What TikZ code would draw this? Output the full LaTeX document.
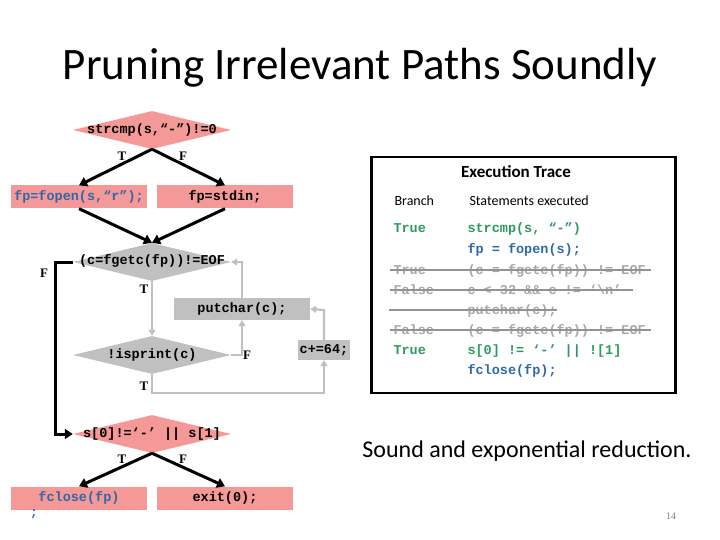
\documentclass[tikz,border=0pt]{standalone}
\usepackage{fontspec}
\setmainfont{Carlito}
\newfontfamily\cm{Liberation Mono}
\usetikzlibrary{shapes.geometric,arrows.meta}
\definecolor{pk}{HTML}{F59898}
\definecolor{gy}{HTML}{C0C0C0}
\definecolor{gr}{HTML}{2E9A60}
\definecolor{bl}{HTML}{3068A8}
\definecolor{st}{HTML}{A8A8A8}
\tikzset{
 dm/.style={diamond,aspect=4.2,inner sep=0pt,minimum width=158pt,minimum height=38pt},
 dt/.style={inner sep=0pt,font=\cm\bfseries\fontsize{13.5}{14}\selectfont},
 bx/.style={rectangle,inner sep=0pt,minimum width=136pt,minimum height=23pt,font=\cm\bfseries\fontsize{13.5}{14}\selectfont},
 lb/.style={font=\fontspec{Liberation Serif}\bfseries\fontsize{13}{14}\selectfont},
 bk/.style={line width=3pt,-{Triangle[length=8pt,width=10pt]}},
 ga/.style={gy,line width=2.2pt,-{Triangle[length=6pt,width=7pt]}},
 tr/.style={anchor=base west,font=\cm\bfseries\fontsize{13.5}{14}\selectfont},
 strk/.style={line width=1.3pt,color=gray!85},
}
\begin{document}
\begin{tikzpicture}[x=1pt,y=-1pt]
\useasboundingbox (0,0) rectangle (720,540);
\node (title) at (360,68) {\fontsize{45}{50}\selectfont Pruning Irrelevant Paths Soundly};
% flowchart
\node[dm,fill=pk] (d1) at (152,130) {};
\node[dt] (d1t) at (152,130) {strcmp(s,“-”)!=0};
\node[bx,fill=pk,text=bl] (b1) at (79,197) {fp=fopen(s,“r”);};
\node[bx,fill=pk] (b2) at (225,197) {fp=stdin;};
\node[dm,fill=gy] (d2) at (152,262) {};
\node[dt] (d2t) at (152,261) {(c=fgetc(fp))!=EOF};
\node[bx,fill=gy,minimum height=22pt] (pc) at (242,309) {putchar(c);};
\node[dm,fill=gy] (d3) at (152,355) {};
\node[dt] (d3t) at (152,355) {!isprint(c)};
\node[bx,fill=gy,minimum width=52pt,minimum height=20pt] (c64) at (324,350) {c+=64;};
\node[dm,fill=pk] (d4) at (152,434) {};
\node[dt] (d4t) at (152,434) {s[0]!=‘-’ || s[1]};
\node[bx,fill=pk,text=bl,align=left] (b3) at (79,498) {fclose(fp)};
\node[font=\cm\bfseries\fontsize{13}{14}\selectfont,text=bl] (semi) at (34,514) {;};
\node[bx,fill=pk] (b4) at (225,498) {exit(0);};
% labels
\node[lb] (t1) at (122,156) {T};
\node[lb] (f1) at (183,156) {F};
\node[lb] (f2) at (44,273) {F};
\node[lb] (t2) at (144,289) {T};
\node[lb] (f3) at (247,355) {F};
\node[lb] (t3) at (144,386) {T};
\node[lb] (t4) at (122,459) {T};
\node[lb] (f4) at (183,459) {F};
% black arrows
\draw[bk] (d1.south) -- (b1.north);
\draw[bk] (d1.south) -- (b2.north);
\draw[bk] (b1.south) -- (d2.north);
\draw[bk] (b2.south) -- (d2.north);
\draw[bk] (d4.south) -- (b3.north);
\draw[bk] (d4.south) -- (b4.north);
\coordinate (l1) at (55,262);
\coordinate (l2) at (55,434);
\draw[bk] (d2.west) -- (l1) -- (l2) -- (d4.west);
% gray arrows
\draw[ga] (d2.south) -- (d3.north);
\coordinate (g1) at (242,355);
\draw[ga] (d3.east) -- (g1) -- (pc.south);
\coordinate (g2) at (242,262);
\draw[ga] (pc.north) -- (g2) -- (d2.east);
\coordinate (g3) at (324,310);
\draw[ga] (c64.north) -- (g3) -- (pc.east);
\coordinate (g4) at (152,393);
\coordinate (g5) at (324,393);
\draw[ga] (d3.south) -- (g4) -- (g5) -- (c64.south);
% trace box
\node[draw,line width=2.2pt,minimum width=304pt,minimum height=236pt,inner sep=0pt] (tb) at (523.5,275) {};
\node[font=\bfseries\fontsize{17}{19}\selectfont] (th) at (516,172) {Execution Trace};
\node[anchor=base west,font=\fontsize{14}{16}\selectfont] (h1) at (391,206) {Branch};
\node[anchor=base west,font=\fontsize{14}{16}\selectfont] (h2) at (466,206) {Statements executed};
\node[tr,text=gr] (r1a) at (390,233) {True};
\node[tr,text=gr] (r1b) at (464,233) {strcmp(s, “-”)};
\node[tr,text=bl] (r2b) at (464,253) {fp = fopen(s);};
\node[tr,text=st] (r3a) at (390,274) {True};
\node[tr,text=st] (r3b) at (464,274) {(c = fgetc(fp)) != EOF};
\node[tr,text=st] (r4a) at (390,294) {False};
\node[tr,text=st] (r4b) at (464,294) {c < 32 \&\& c != ‘\textbackslash n’};
\node[tr,text=st] (r5b) at (464,314) {putchar(c);};
\node[tr,text=st] (r6a) at (390,334) {False};
\node[tr,text=st] (r6b) at (464,334) {(c = fgetc(fp)) != EOF};
\node[tr,text=gr] (r7a) at (390,354) {True};
\node[tr,text=gr] (r7b) at (464,354) {s[0] != ‘-’ || ![1]};
\node[tr,text=bl] (r8b) at (464,374) {fclose(fp);};
\coordinate (s1a) at (390,270); \coordinate (s1b) at (651,270);
\coordinate (s2a) at (390,290); \coordinate (s2b) at (633,290);
\coordinate (s3a) at (389,310); \coordinate (s3b) at (557,310);
\coordinate (s4a) at (390,330); \coordinate (s4b) at (651,330);
\draw[strk] (s1a) -- (s1b);
\draw[strk] (s2a) -- (s2b);
\draw[strk] (s3a) -- (s3b);
\draw[strk] (s4a) -- (s4b);
\node (snd) at (527,451) {\fontsize{24}{27}\selectfont Sound and exponential reduction.};
\node[text=gray,font=\fontspec{Liberation Serif}\fontsize{10}{12}\selectfont] (pg) at (671,516) {14};
\end{tikzpicture}
\end{document}
